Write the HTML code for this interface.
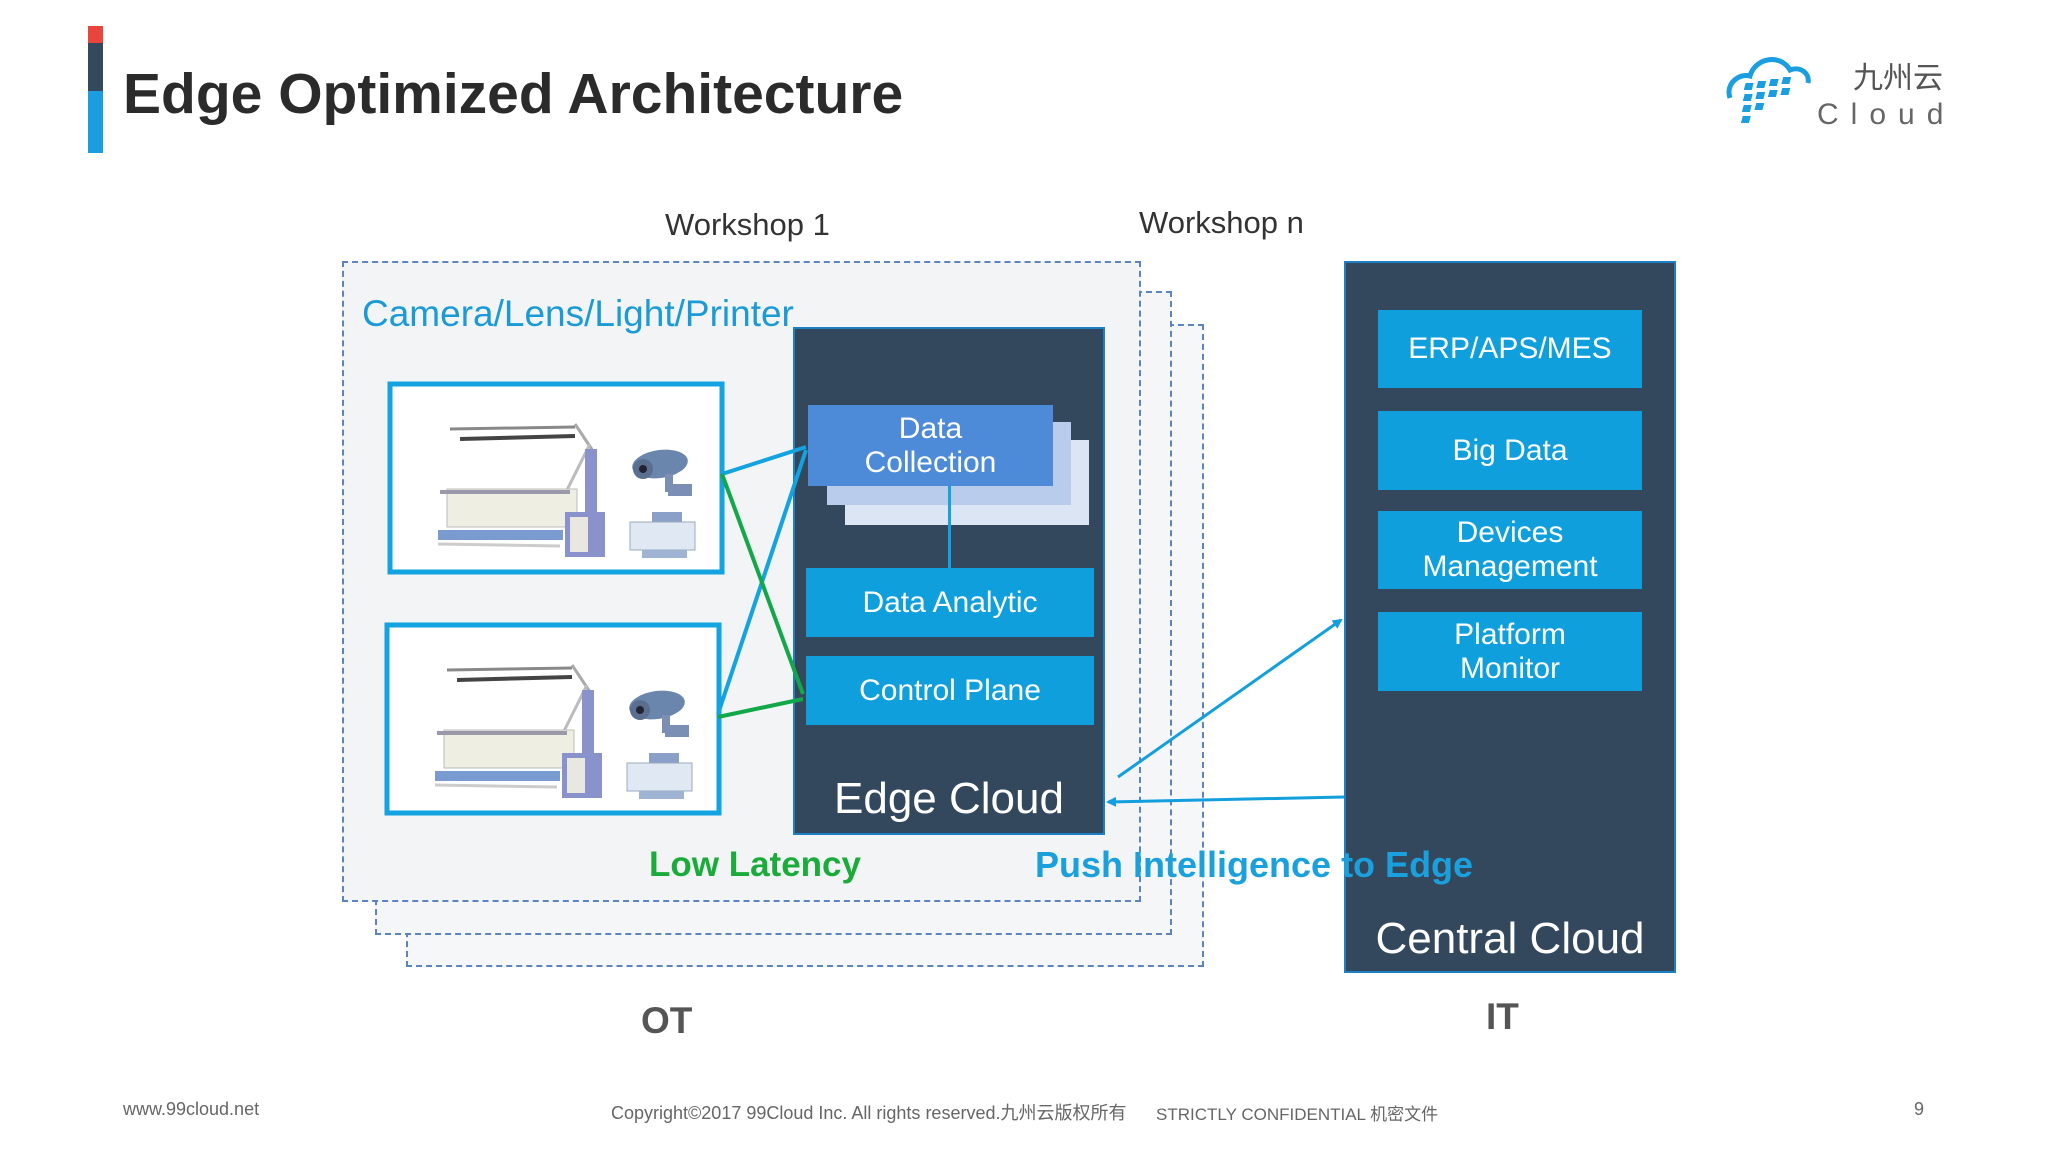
<!DOCTYPE html>
<html><head><meta charset="utf-8"><style>
*{margin:0;padding:0;box-sizing:border-box}
body{width:2048px;height:1152px;background:#fff;position:relative;overflow:hidden;font-family:"Liberation Sans","Noto Sans CJK SC",sans-serif}
.a{position:absolute}
.blk{position:absolute;background:#0f9fdc;color:#fff;display:flex;align-items:center;justify-content:center;text-align:center;font-size:30px;line-height:34px}
.t{position:absolute;white-space:nowrap}
</style></head><body>
<div class="a" style="left:88px;top:26px;width:15px;height:17px;background:#e8463c"></div>
<div class="a" style="left:88px;top:43px;width:15px;height:48px;background:#34495e"></div>
<div class="a" style="left:88px;top:91px;width:15px;height:62px;background:#1a9ee0"></div>
<div class="t" style="left:123px;top:61px;font-size:57px;font-weight:bold;color:#2b2b2b">Edge Optimized Architecture</div>

<!-- logo -->
<svg class="a" style="left:1725px;top:48px" width="230" height="80" viewBox="0 0 230 80">
<path d="M5 50 C0 35 15 25 25 28 C30 10 55 5 65 22 C75 18 85 25 83 35" fill="none" stroke="#1a9ee0" stroke-width="5"/>
<g fill="#1a9ee0">
<rect x="30" y="35" width="8" height="7" transform="skewX(-15)"/><rect x="42" y="33" width="8" height="7" transform="skewX(-15)"/><rect x="54" y="31" width="8" height="7" transform="skewX(-15)"/><rect x="66" y="29" width="8" height="7" transform="skewX(-15)"/>
<rect x="32" y="46" width="8" height="7" transform="skewX(-15)"/><rect x="44" y="44" width="8" height="7" transform="skewX(-15)"/><rect x="56" y="42" width="8" height="7" transform="skewX(-15)"/><rect x="68" y="40" width="8" height="7" transform="skewX(-15)"/>
<rect x="34" y="57" width="8" height="7" transform="skewX(-15)"/><rect x="46" y="55" width="8" height="7" transform="skewX(-15)"/>
<rect x="36" y="68" width="8" height="7" transform="skewX(-15)"/>
</g>
<text x="128" y="40" font-size="30" fill="#555" font-family="Noto Sans CJK SC,sans-serif">九州云</text>
<text x="92" y="76" font-size="30" fill="#666" letter-spacing="12" font-family="Liberation Sans,sans-serif">Cloud</text>
</svg>

<div class="t" style="left:665px;top:207px;font-size:31px;color:#333">Workshop 1</div>
<div class="t" style="left:1139px;top:205px;font-size:31px;color:#333">Workshop n</div>

<!-- stacked dashed boxes -->
<div class="a" style="left:406px;top:324px;width:798px;height:643px;border:2px dashed #5b84c0;background:#f6f7f9"></div>
<div class="a" style="left:375px;top:291px;width:797px;height:644px;border:2px dashed #5b84c0;background:#f5f6f8"></div>
<div class="a" style="left:342px;top:261px;width:799px;height:641px;border:2px dashed #5b84c0;background:#f3f4f6"></div>
<div class="t" style="left:362px;top:293px;font-size:37px;color:#1a9ad6">Camera/Lens/Light/Printer</div>

<svg width="0" height="0" style="position:absolute"><defs>
<g id="eq">
<rect x="0" y="0" width="332" height="188" fill="#fff" stroke="#12a3e0" stroke-width="5"/>
<line x1="60" y1="45" x2="185" y2="43" stroke="#888" stroke-width="3"/>
<line x1="70" y1="55" x2="185" y2="52" stroke="#444" stroke-width="4"/>
<line x1="185" y1="40" x2="205" y2="70" stroke="#aaa" stroke-width="3"/>
<line x1="200" y1="60" x2="175" y2="110" stroke="#bbb" stroke-width="3"/>
<rect x="57" y="105" width="130" height="38" fill="#efeee3" stroke="#bbb"/>
<line x1="50" y1="108" x2="180" y2="108" stroke="#99a" stroke-width="4"/>
<rect x="48" y="146" width="125" height="10" fill="#7a9bd0"/>
<line x1="48" y1="160" x2="170" y2="162" stroke="#ccc" stroke-width="3"/>
<rect x="195" y="65" width="12" height="68" fill="#8a92cc"/>
<rect x="175" y="128" width="40" height="45" fill="#8a92cc"/>
<rect x="180" y="133" width="18" height="35" fill="#e9e8e0"/>
<ellipse cx="270" cy="80" rx="28" ry="14" fill="#6b86ad" transform="rotate(-8 270 80)"/>
<circle cx="253" cy="85" r="10" fill="#5a6f8f"/><circle cx="253" cy="85" r="4" fill="#223"/>
<rect x="275" y="90" width="8" height="18" fill="#7b8fb5"/><rect x="278" y="100" width="24" height="12" fill="#7b8fb5"/>
<rect x="262" y="128" width="30" height="12" fill="#8aa0c8"/>
<rect x="240" y="138" width="65" height="28" fill="#dfe8f3" stroke="#9ab" />
<rect x="252" y="166" width="45" height="8" fill="#9fb3d3"/>
</g></defs></svg>

<svg class="a" style="left:0;top:0" width="2048" height="1152">
<use href="#eq" x="390" y="384"/>
<use href="#eq" x="387" y="625"/>
</svg>

<!-- edge cloud -->
<div class="a" style="left:793px;top:327px;width:312px;height:508px;background:#33475d;border:2px solid #1f7fc4"></div>
<div class="a" style="left:845px;top:440px;width:244px;height:85px;background:#dce5f4"></div>
<div class="a" style="left:827px;top:422px;width:244px;height:83px;background:#b9ccec"></div>
<div class="blk" style="left:808px;top:405px;width:245px;height:81px;background:#4d8bd9">Data<br>Collection</div>
<div class="a" style="left:948px;top:486px;width:3px;height:82px;background:#12a3e0"></div>
<div class="blk" style="left:806px;top:568px;width:288px;height:69px">Data Analytic</div>
<div class="blk" style="left:806px;top:656px;width:288px;height:69px">Control Plane</div>
<div class="t" style="left:793px;width:312px;text-align:center;top:774px;font-size:44px;color:#fff">Edge Cloud</div>

<!-- central cloud -->
<div class="a" style="left:1344px;top:261px;width:332px;height:712px;background:#33475d;border:2px solid #1f7fc4"></div>
<div class="blk" style="left:1378px;top:310px;width:264px;height:78px">ERP/APS/MES</div>
<div class="blk" style="left:1378px;top:411px;width:264px;height:79px">Big Data</div>
<div class="blk" style="left:1378px;top:511px;width:264px;height:78px">Devices<br>Management</div>
<div class="blk" style="left:1378px;top:612px;width:264px;height:79px">Platform<br>Monitor</div>
<div class="t" style="left:1344px;width:332px;text-align:center;top:914px;font-size:44px;color:#fff">Central Cloud</div>

<svg class="a" style="left:0;top:0" width="2048" height="1152">
<defs><marker id="ar" markerWidth="10" markerHeight="10" refX="8" refY="5" orient="auto" markerUnits="userSpaceOnUse"><path d="M0 0 L10 5 L0 10 Z" fill="#129fdc"/></marker></defs>
<g stroke-width="4" fill="none">
<line x1="722" y1="474" x2="806" y2="447" stroke="#12a3e0"/>
<line x1="806" y1="450" x2="718" y2="714" stroke="#12a3e0"/>
<line x1="722" y1="474" x2="803" y2="694" stroke="#12a84a"/>
<line x1="718" y1="717" x2="803" y2="699" stroke="#12a84a"/>
<line x1="1118" y1="777" x2="1341" y2="620" stroke="#129fdc" stroke-width="3" marker-end="url(#ar)"/>
<line x1="1344" y1="797" x2="1108" y2="802" stroke="#129fdc" stroke-width="3" marker-end="url(#ar)"/>
</g></svg>

<div class="t" style="left:649px;top:845px;font-size:35px;font-weight:bold;color:#1aab3a">Low Latency</div>
<div class="t" style="left:1035px;top:844px;font-size:36px;font-weight:bold;color:#1aa0dc">Push Intelligence to Edge</div>
<div class="t" style="left:641px;top:1000px;font-size:37px;font-weight:bold;color:#555">OT</div>
<div class="t" style="left:1486px;top:996px;font-size:37px;font-weight:bold;color:#555">IT</div>

<div class="t" style="left:123px;top:1099px;font-size:18px;color:#666">www.99cloud.net</div>
<div class="t" style="left:611px;top:1099px;font-size:18px;color:#666">Copyright©2017 99Cloud Inc. All rights reserved.九州云版权所有</div>
<div class="t" style="left:1156px;top:1100px;font-size:17px;color:#666">STRICTLY CONFIDENTIAL 机密文件</div>
<div class="t" style="left:1914px;top:1099px;font-size:18px;color:#666">9</div>
</body></html>
